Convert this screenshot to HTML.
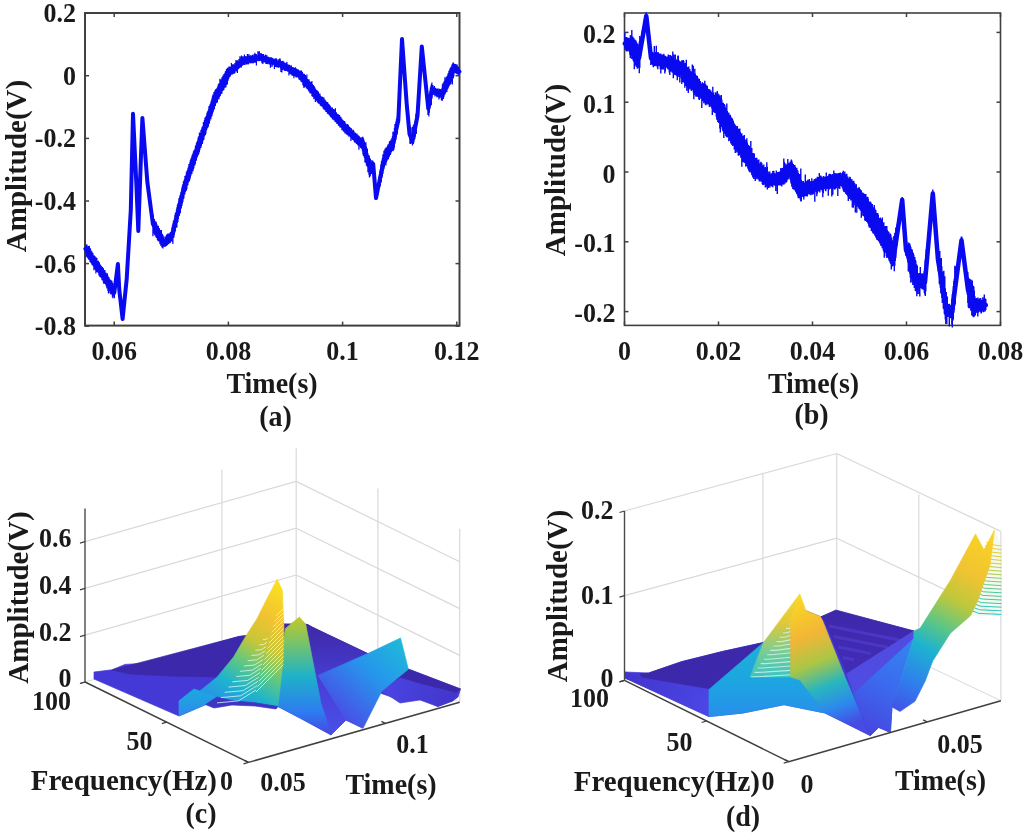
<!DOCTYPE html>
<html><head><meta charset="utf-8"><style>
html,body{margin:0;padding:0;background:#fff;width:1025px;height:835px;overflow:hidden}
svg{display:block;font-family:"Liberation Serif",serif;filter:blur(0.45px)}
</style></head><body>
<svg width="1025" height="835" viewBox="0 0 1025 835" font-family="Liberation Serif" font-weight="bold" fill="#1a1a1a"><defs><linearGradient id="crend" gradientUnits="userSpaceOnUse" x1="380" y1="680" x2="460" y2="700"><stop offset="0" stop-color="rgb(75,70,228)"/><stop offset="1" stop-color="rgb(66,52,200)"/></linearGradient><linearGradient id="cmid" gradientUnits="userSpaceOnUse" x1="0" y1="630" x2="0" y2="735"><stop offset="0" stop-color="rgb(62,42,170)"/><stop offset="0.5" stop-color="rgb(72,62,215)"/><stop offset="1" stop-color="rgb(74,80,232)"/></linearGradient><linearGradient id="cp3" gradientUnits="userSpaceOnUse" x1="405" y1="640" x2="335" y2="715"><stop offset="0" stop-color="rgb(30,188,215)"/><stop offset="0.45" stop-color="rgb(38,150,236)"/><stop offset="1" stop-color="rgb(75,75,230)"/></linearGradient><linearGradient id="cp2" gradientUnits="userSpaceOnUse" x1="0" y1="617" x2="0" y2="735"><stop offset="0" stop-color="rgb(195,200,40)"/><stop offset="0.22" stop-color="rgb(120,195,105)"/><stop offset="0.5" stop-color="rgb(30,178,200)"/><stop offset="0.8" stop-color="rgb(45,125,240)"/><stop offset="1" stop-color="rgb(68,72,228)"/></linearGradient><linearGradient id="cp1" gradientUnits="userSpaceOnUse" x1="282" y1="585" x2="215" y2="705"><stop offset="0" stop-color="rgb(250,225,30)"/><stop offset="0.25" stop-color="rgb(242,195,50)"/><stop offset="0.45" stop-color="rgb(200,198,55)"/><stop offset="0.62" stop-color="rgb(100,200,125)"/><stop offset="0.8" stop-color="rgb(30,180,205)"/><stop offset="1" stop-color="rgb(40,140,236)"/></linearGradient><linearGradient id="cface" gradientUnits="userSpaceOnUse" x1="0" y1="690" x2="0" y2="716"><stop offset="0" stop-color="rgb(28,168,222)"/><stop offset="1" stop-color="rgb(45,140,235)"/></linearGradient><linearGradient id="dfront" gradientUnits="userSpaceOnUse" x1="625" y1="675" x2="710" y2="720"><stop offset="0" stop-color="rgb(66,52,205)"/><stop offset="1" stop-color="rgb(76,72,232)"/></linearGradient><linearGradient id="dcy" gradientUnits="userSpaceOnUse" x1="0" y1="642" x2="0" y2="721"><stop offset="0" stop-color="rgb(30,178,212)"/><stop offset="0.5" stop-color="rgb(28,165,225)"/><stop offset="1" stop-color="rgb(42,140,236)"/></linearGradient><linearGradient id="dp1l" gradientUnits="userSpaceOnUse" x1="0" y1="594" x2="0" y2="677"><stop offset="0" stop-color="rgb(250,215,40)"/><stop offset="0.35" stop-color="rgb(225,200,55)"/><stop offset="0.7" stop-color="rgb(120,205,150)"/><stop offset="1" stop-color="rgb(60,195,195)"/></linearGradient><linearGradient id="dp1" gradientUnits="userSpaceOnUse" x1="800" y1="594" x2="850" y2="725"><stop offset="0" stop-color="rgb(250,218,35)"/><stop offset="0.3" stop-color="rgb(242,182,55)"/><stop offset="0.5" stop-color="rgb(170,198,70)"/><stop offset="0.68" stop-color="rgb(40,182,190)"/><stop offset="0.85" stop-color="rgb(45,135,238)"/><stop offset="1" stop-color="rgb(70,75,228)"/></linearGradient><linearGradient id="dback" gradientUnits="userSpaceOnUse" x1="0" y1="610" x2="0" y2="680"><stop offset="0" stop-color="rgb(62,40,170)"/><stop offset="1" stop-color="rgb(66,45,185)"/></linearGradient><linearGradient id="dlb" gradientUnits="userSpaceOnUse" x1="915" y1="640" x2="860" y2="735"><stop offset="0" stop-color="rgb(50,135,240)"/><stop offset="0.5" stop-color="rgb(60,105,238)"/><stop offset="1" stop-color="rgb(72,66,222)"/></linearGradient><linearGradient id="drr" gradientUnits="userSpaceOnUse" x1="990" y1="532" x2="890" y2="720"><stop offset="0" stop-color="rgb(250,212,35)"/><stop offset="0.22" stop-color="rgb(240,195,50)"/><stop offset="0.36" stop-color="rgb(190,200,60)"/><stop offset="0.5" stop-color="rgb(90,198,135)"/><stop offset="0.62" stop-color="rgb(30,178,208)"/><stop offset="0.8" stop-color="rgb(48,125,238)"/><stop offset="1" stop-color="rgb(72,68,226)"/></linearGradient></defs><rect x="85" y="13" width="374.5" height="312.6" fill="none" stroke="#404040" stroke-width="2"/>
<line x1="85" y1="13.1" x2="89" y2="13.1" stroke="#404040" stroke-width="1.5"/>
<line x1="459.5" y1="13.1" x2="455.5" y2="13.1" stroke="#404040" stroke-width="1.5"/>
<text transform="translate(76.0,22.1) scale(1,1.03)" font-size="26" text-anchor="end" >0.2</text>
<line x1="85" y1="75.7" x2="89" y2="75.7" stroke="#404040" stroke-width="1.5"/>
<line x1="459.5" y1="75.7" x2="455.5" y2="75.7" stroke="#404040" stroke-width="1.5"/>
<text transform="translate(76.0,84.7) scale(1,1.03)" font-size="26" text-anchor="end" >0</text>
<line x1="85" y1="138.4" x2="89" y2="138.4" stroke="#404040" stroke-width="1.5"/>
<line x1="459.5" y1="138.4" x2="455.5" y2="138.4" stroke="#404040" stroke-width="1.5"/>
<text transform="translate(76.0,147.4) scale(1,1.03)" font-size="26" text-anchor="end" >-0.2</text>
<line x1="85" y1="201" x2="89" y2="201" stroke="#404040" stroke-width="1.5"/>
<line x1="459.5" y1="201" x2="455.5" y2="201" stroke="#404040" stroke-width="1.5"/>
<text transform="translate(76.0,210.0) scale(1,1.03)" font-size="26" text-anchor="end" >-0.4</text>
<line x1="85" y1="263.6" x2="89" y2="263.6" stroke="#404040" stroke-width="1.5"/>
<line x1="459.5" y1="263.6" x2="455.5" y2="263.6" stroke="#404040" stroke-width="1.5"/>
<text transform="translate(76.0,272.6) scale(1,1.03)" font-size="26" text-anchor="end" >-0.6</text>
<line x1="85" y1="326.2" x2="89" y2="326.2" stroke="#404040" stroke-width="1.5"/>
<line x1="459.5" y1="326.2" x2="455.5" y2="326.2" stroke="#404040" stroke-width="1.5"/>
<text transform="translate(76.0,335.2) scale(1,1.03)" font-size="26" text-anchor="end" >-0.8</text>
<line x1="114.2" y1="325.6" x2="114.2" y2="321.6" stroke="#404040" stroke-width="1.5"/>
<line x1="114.2" y1="13" x2="114.2" y2="17" stroke="#404040" stroke-width="1.5"/>
<text transform="translate(114.2,360.0) scale(1,1.03)" font-size="26" text-anchor="middle" >0.06</text>
<line x1="228.4" y1="325.6" x2="228.4" y2="321.6" stroke="#404040" stroke-width="1.5"/>
<line x1="228.4" y1="13" x2="228.4" y2="17" stroke="#404040" stroke-width="1.5"/>
<text transform="translate(228.4,360.0) scale(1,1.03)" font-size="26" text-anchor="middle" >0.08</text>
<line x1="342.6" y1="325.6" x2="342.6" y2="321.6" stroke="#404040" stroke-width="1.5"/>
<line x1="342.6" y1="13" x2="342.6" y2="17" stroke="#404040" stroke-width="1.5"/>
<text transform="translate(342.6,360.0) scale(1,1.03)" font-size="26" text-anchor="middle" >0.1</text>
<line x1="456.8" y1="325.6" x2="456.8" y2="321.6" stroke="#404040" stroke-width="1.5"/>
<line x1="456.8" y1="13" x2="456.8" y2="17" stroke="#404040" stroke-width="1.5"/>
<text transform="translate(456.8,360.0) scale(1,1.03)" font-size="26" text-anchor="middle" >0.12</text>
<text transform="translate(272.0,393.0) scale(1,1.03)" font-size="28" text-anchor="middle" >Time(s)</text>
<text transform="translate(275.5,426.0) scale(1,1.03)" font-size="28" text-anchor="middle" >(a)</text>
<text transform="translate(25.5,166) rotate(-90)" font-size="29" text-anchor="middle">Amplitude(V)</text>
<polyline points="85.4,248.8 100.5,270.8 114.3,292.8 117.9,264.0 119.3,290.0 122.6,319.0 126.7,279.0 130.8,210.0 133.0,113.8 136.3,182.6 138.3,230.9 140.5,168.9 142.4,117.9 147.4,182.6 152.9,224.0 163.9,243.2 172.2,235.0 184.0,188.0 205.7,125.0 214.4,99.5 228.7,73.0 243.0,61.0 260.0,57.5 279.0,63.5 300.6,75.5 319.8,99.5 343.7,125.8 362.9,145.0 370.8,170.0 373.2,163.8 376.0,198.0 384.0,159.0 393.5,142.0 398.3,120.6 402.0,39.0 406.7,103.9 409.5,134.0 411.5,139.0 414.0,134.0 417.5,115.9 421.8,46.4 428.3,108.7 431.9,89.5 441.5,94.3 454.7,67.9 459.4,71.5" fill="none" stroke="#0a0af0" stroke-width="4" stroke-linejoin="round" stroke-linecap="round"/>
<path d="M85.90,244.7V254.0M86.40,245.1V256.5M86.90,244.2V257.1M87.40,246.5V257.7M87.90,247.2V258.0M88.40,246.1V259.5M88.90,246.7V259.0M89.40,245.8V260.0M89.90,249.9V261.7M90.40,248.3V262.3M90.90,250.3V262.8M91.40,251.2V263.6M91.90,251.5V264.8M92.40,252.7V265.2M92.90,253.1V265.4M93.40,255.2V266.4M93.90,255.8V270.3M94.40,255.6V268.9M94.90,256.1V269.0M95.40,257.3V270.2M95.90,258.0V273.4M96.40,257.6V271.7M96.90,257.9V272.0M97.40,261.0V271.4M97.90,261.7V272.6M98.40,260.8V272.9M98.90,262.2V275.4M99.40,262.3V274.8M99.90,264.0V277.0M100.40,265.1V276.2M100.90,265.6V277.8M101.40,266.3V277.6M101.90,266.8V279.7M102.40,266.9V280.4M102.90,267.7V280.2M103.40,268.3V282.8M103.90,269.9V284.1M104.40,271.4V282.9M104.90,269.9V283.4M105.40,272.4V284.1M105.90,272.6V285.2M106.40,274.0V286.4M106.90,273.7V288.6M107.40,273.3V287.4M107.90,275.4V290.9M108.40,277.7V293.5M108.90,276.9V291.1M109.40,278.8V290.8M109.90,279.2V292.9M110.40,280.7V293.8M110.90,280.1V294.6M111.40,281.1V294.1M111.90,280.8V294.5M112.40,282.8V297.3M112.90,283.1V298.2M113.40,286.5V295.9M113.90,288.2V296.2M114.40,284.2V298.3M152.90,214.0V236.2M153.40,216.0V233.6M153.90,219.5V233.4M154.40,219.0V234.6M154.90,220.7V235.4M155.40,222.1V234.5M155.90,221.4V236.9M156.40,222.4V238.1M156.90,224.3V238.1M157.40,225.9V239.9M157.90,225.7V240.7M158.40,225.8V241.3M158.90,228.0V241.0M159.40,228.2V241.8M159.90,230.1V244.1M160.40,230.2V244.2M160.90,231.2V245.9M161.40,229.9V245.9M161.90,233.8V247.3M162.40,233.7V248.1M162.90,234.9V248.5M163.40,236.5V246.7M163.90,239.8V246.0M164.40,239.0V246.5M164.90,236.5V246.9M165.40,236.9V246.6M165.90,236.5V246.1M166.40,234.9V246.0M166.90,234.4V244.6M167.40,233.9V245.3M167.90,233.6V244.0M168.40,233.5V244.2M168.90,234.2V243.6M169.40,233.7V243.5M169.90,233.0V243.1M170.40,232.0V242.7M170.90,232.2V241.0M171.40,230.6V240.7M171.90,227.2V241.8M172.40,225.6V241.8M172.90,223.2V244.1M173.40,220.4V238.1M173.90,220.5V237.6M174.40,218.3V234.8M174.90,214.8V232.5M175.40,212.6V231.2M175.90,212.4V228.1M176.40,209.7V226.1M176.90,207.2V227.4M177.40,204.7V223.0M177.90,203.4V222.0M178.40,202.3V219.1M178.90,198.3V216.3M179.40,198.0V215.7M179.90,195.6V212.4M180.40,194.6V213.2M180.90,192.3V209.1M181.40,190.4V207.8M181.90,187.6V205.9M182.40,185.6V203.6M182.90,184.0V201.9M183.40,181.3V199.0M183.90,180.8V198.4M184.40,179.1V194.4M184.90,176.1V194.3M185.40,176.0V192.0M185.90,174.7V190.9M186.40,171.5V190.6M186.90,171.6V189.1M187.40,169.9V185.5M187.90,168.2V185.2M188.40,166.7V182.6M188.90,164.1V182.1M189.40,164.4V181.0M189.90,161.8V179.7M190.40,160.1V177.7M190.90,158.4V175.7M191.40,157.7V174.0M191.90,155.7V173.9M192.40,154.4V171.3M192.90,153.6V171.4M193.40,151.5V169.4M193.90,150.3V168.2M194.40,150.3V165.5M194.90,148.7V165.6M195.40,146.1V163.7M195.90,145.0V160.9M196.40,142.9V160.5M196.90,141.7V158.1M197.40,141.1V156.7M197.90,138.6V155.5M198.40,136.6V154.7M198.90,136.3V153.7M199.40,132.5V152.1M199.90,132.8V149.9M200.40,133.0V147.9M200.90,130.1V147.9M201.40,129.4V146.0M201.90,127.6V143.7M202.40,126.7V144.1M202.90,125.7V141.5M203.40,122.1V140.1M203.90,122.4V139.7M204.40,120.1V136.5M204.90,117.8V135.0M205.40,117.3V135.2M205.90,116.5V133.8M206.40,115.5V130.4M206.90,113.1V129.6M207.40,111.8V128.1M207.90,111.1V127.6M208.40,109.4V126.5M208.90,106.2V123.7M209.40,105.9V123.8M209.90,104.5V121.0M210.40,103.7V118.9M210.90,101.7V119.2M211.40,100.3V116.8M211.90,98.6V116.3M212.40,96.2V114.2M212.90,94.4V112.5M213.40,94.9V111.5M213.90,91.9V109.8M214.40,92.2V109.0M214.90,90.6V106.3M215.40,89.8V106.0M215.90,89.1V103.6M216.40,88.7V102.4M216.90,88.2V103.1M217.40,87.3V102.1M217.90,85.8V99.5M218.40,83.7V99.0M218.90,83.7V99.3M219.40,83.1V97.3M219.90,78.8V96.3M220.40,81.9V95.7M220.90,79.4V94.1M221.40,79.8V93.6M221.90,77.3V93.7M222.40,78.4V90.9M222.90,75.6V91.0M223.40,76.6V89.9M223.90,73.9V90.0M224.40,74.2V87.4M224.90,72.7V87.7M225.40,71.3V86.7M225.90,71.0V87.6M226.40,69.0V84.9M226.90,69.9V83.1M227.40,67.7V84.5M227.90,67.7V80.9M228.40,68.3V79.4M228.90,66.4V78.6M229.40,67.7V76.6M229.90,66.5V76.9M230.40,68.1V76.1M230.90,66.8V75.1M231.40,63.0V74.6M231.90,65.4V74.1M232.40,64.9V74.4M232.90,64.0V73.5M233.40,65.2V72.9M233.90,64.6V74.1M234.40,64.4V72.1M234.90,62.9V73.3M235.40,63.1V71.2M235.90,60.0V70.5M236.40,61.2V71.5M236.90,60.7V70.2M237.40,60.3V73.0M237.90,61.1V69.4M238.40,61.5V68.9M238.90,59.0V68.1M239.40,60.2V68.2M239.90,56.2V67.9M240.40,57.8V67.0M240.90,57.4V66.2M241.40,55.5V67.4M241.90,56.5V65.9M242.40,56.4V65.4M242.90,56.2V65.3M243.40,56.8V64.1M243.90,58.5V64.8M244.40,54.5V65.1M244.90,56.2V65.0M245.40,57.6V63.8M245.90,56.0V63.1M246.40,56.4V64.4M246.90,56.5V63.2M247.40,54.0V64.1M247.90,57.1V64.6M248.40,55.4V64.2M248.90,54.0V62.3M249.40,56.4V62.5M249.90,55.9V63.4M250.40,55.3V63.3M250.90,55.2V62.3M251.40,56.1V63.2M251.90,56.3V62.0M252.40,54.8V62.7M252.90,55.8V63.5M253.40,56.0V63.0M253.90,54.3V61.3M254.40,54.5V62.8M254.90,52.7V61.5M255.40,54.8V62.8M255.90,54.1V61.7M256.40,54.2V65.4M256.90,55.3V61.3M257.40,55.3V60.9M257.90,51.3V60.7M258.40,55.1V60.8M258.90,51.4V61.3M259.40,51.3V61.3M259.90,54.4V60.4M260.40,53.2V60.6M260.90,54.6V61.1M261.40,53.3V61.2M261.90,54.1V63.3M262.40,54.0V61.6M262.90,55.0V64.0M263.40,54.1V61.2M263.90,55.5V62.3M264.40,55.8V62.5M264.90,56.4V62.6M265.40,54.6V62.1M265.90,54.9V63.9M266.40,57.0V64.0M266.90,55.3V63.5M267.40,57.0V64.0M267.90,56.7V64.3M268.40,57.3V63.1M268.90,56.7V63.6M269.40,57.5V64.5M269.90,58.1V64.3M270.40,58.3V67.7M270.90,57.1V64.1M271.40,57.4V64.5M271.90,57.8V67.1M272.40,58.5V65.5M272.90,58.1V64.4M273.40,59.1V64.4M273.90,59.3V65.3M274.40,59.5V68.9M274.90,58.6V64.8M275.40,59.1V66.9M275.90,58.2V67.1M276.40,58.5V65.5M276.90,59.3V67.4M277.40,60.2V67.2M277.90,60.6V66.4M278.40,60.5V67.8M278.90,59.1V66.4M279.40,59.0V66.9M279.90,58.3V67.5M280.40,59.4V68.6M280.90,61.4V71.9M281.40,61.2V69.6M281.90,61.0V72.6M282.40,61.7V69.9M282.90,60.7V69.7M283.40,61.5V69.7M283.90,61.8V69.1M284.40,63.1V70.7M284.90,62.7V71.0M285.40,64.3V69.9M285.90,63.2V71.1M286.40,62.8V70.7M286.90,61.9V70.7M287.40,64.6V71.5M287.90,64.3V71.7M288.40,64.9V71.8M288.90,65.7V75.4M289.40,64.8V73.0M289.90,66.7V73.8M290.40,66.3V74.1M290.90,65.2V74.5M291.40,65.6V73.3M291.90,67.0V75.5M292.40,66.9V75.8M292.90,68.0V75.4M293.40,67.3V76.1M293.90,68.3V78.3M294.40,67.7V74.9M294.90,67.9V76.2M295.40,67.2V75.9M295.90,69.4V77.3M296.40,68.5V77.5M296.90,69.4V77.2M297.40,69.8V77.1M297.90,69.1V77.3M298.40,71.4V77.7M298.90,70.1V79.4M299.40,71.3V79.6M299.90,71.6V80.1M300.40,70.6V80.2M300.90,71.0V81.6M301.40,70.4V81.7M301.90,71.4V82.2M302.40,71.9V82.4M302.90,73.6V85.1M303.40,74.3V86.3M303.90,73.7V87.9M304.40,74.0V86.5M304.90,76.3V87.2M305.40,75.0V86.2M305.90,77.4V86.6M306.40,76.5V88.6M306.90,74.5V88.4M307.40,79.1V89.1M307.90,80.1V89.6M308.40,79.2V90.5M308.90,79.3V91.4M309.40,80.7V91.0M309.90,81.7V93.3M310.40,81.8V93.4M310.90,82.0V93.0M311.40,84.2V93.4M311.90,81.0V96.2M312.40,84.1V95.1M312.90,85.7V97.1M313.40,85.0V96.6M313.90,86.2V99.3M314.40,86.6V98.7M314.90,87.6V98.6M315.40,88.7V101.9M315.90,89.7V99.6M316.40,89.7V100.5M316.90,90.9V101.3M317.40,90.4V102.6M317.90,91.9V102.3M318.40,91.5V103.6M318.90,93.6V103.8M319.40,93.4V103.6M319.90,93.4V104.3M320.40,95.4V105.8M320.90,96.3V105.1M321.40,96.5V106.4M321.90,97.1V106.3M322.40,96.7V106.6M322.90,98.7V107.8M323.40,97.7V109.1M323.90,97.3V109.4M324.40,100.5V109.5M324.90,99.6V110.2M325.40,100.6V110.0M325.90,101.3V111.9M326.40,101.8V112.1M326.90,102.4V111.8M327.40,101.9V113.6M327.90,102.5V113.9M328.40,103.9V113.7M328.90,105.3V114.5M329.40,104.5V115.5M329.90,105.6V115.6M330.40,106.2V116.7M330.90,107.3V117.2M331.40,107.4V117.4M331.90,108.7V118.0M332.40,107.6V119.5M332.90,109.7V119.2M333.40,108.9V119.6M333.90,109.2V120.2M334.40,109.4V120.1M334.90,111.2V121.8M335.40,108.2V121.5M335.90,113.2V122.2M336.40,112.2V122.6M336.90,113.8V124.0M337.40,113.7V123.4M337.90,114.5V123.9M338.40,114.2V125.8M338.90,115.5V125.8M339.40,114.9V125.9M339.90,115.8V127.4M340.40,117.5V127.4M340.90,116.9V127.5M341.40,118.6V128.1M341.90,118.8V130.3M342.40,119.8V129.1M342.90,120.0V130.3M343.40,120.7V131.5M343.90,122.0V131.7M344.40,121.0V130.6M344.90,121.8V133.6M345.40,123.2V131.5M345.90,123.7V133.5M346.40,124.4V134.3M346.90,124.9V134.7M347.40,124.0V134.7M347.90,124.5V135.6M348.40,125.2V135.4M348.90,126.3V136.7M349.40,127.1V135.8M349.90,127.1V135.9M350.40,128.4V137.4M350.90,128.0V141.1M351.40,128.5V138.7M351.90,129.4V138.7M352.40,130.6V139.7M352.90,131.2V140.1M353.40,129.7V140.0M353.90,131.1V140.8M354.40,132.6V141.9M354.90,132.5V142.7M355.40,132.7V142.4M355.90,133.8V142.7M356.40,133.5V144.1M356.90,133.4V143.7M357.40,135.1V144.4M357.90,134.8V145.5M358.40,136.0V144.9M358.90,135.8V149.8M359.40,136.5V145.4M359.90,138.2V146.2M360.40,137.4V147.7M360.90,137.2V148.1M361.40,138.3V148.8M361.90,138.7V148.2M362.40,136.8V151.3M362.90,136.7V154.2M363.40,138.3V155.9M363.90,139.5V156.2M364.40,141.3V157.9M364.90,142.4V162.4M365.40,145.2V162.2M365.90,142.3V162.9M366.40,146.5V165.7M366.90,149.3V165.4M367.40,148.4V167.0M367.90,153.1V172.2M368.40,154.9V171.5M368.90,154.9V174.8M369.40,156.2V177.6M369.90,158.7V176.7M370.40,158.4V175.7M370.90,165.1V171.9M371.40,161.6V174.1M371.90,160.0V173.3M372.40,161.8V169.7M372.90,160.8V169.8M378.90,178.9V188.8M379.40,175.7V188.0M379.90,171.2V186.3M380.40,169.0V186.1M380.90,164.4V182.7M381.40,161.6V181.4M381.90,160.7V178.1M382.40,158.1V176.2M382.90,154.5V174.0M383.40,154.0V170.4M383.90,150.8V169.2M384.40,151.1V167.2M384.90,149.0V165.1M385.40,148.6V164.3M385.90,147.6V165.5M386.40,148.3V162.4M386.90,147.3V161.2M387.40,145.9V159.4M387.90,144.4V159.8M388.40,144.9V158.9M388.90,143.7V157.5M389.40,141.4V156.5M389.90,141.1V154.9M390.40,141.1V155.1M390.90,139.4V153.5M391.40,139.4V151.9M391.90,138.0V151.1M392.40,136.2V150.3M392.90,131.7V151.3M393.40,132.7V150.4M393.90,131.8V149.7M394.40,128.1V147.5M394.90,124.0V144.1M395.40,125.6V141.4M395.90,121.6V140.1M396.40,119.3V137.0M396.90,118.2V134.9M397.40,116.3V133.6M409.90,125.6V143.8M410.40,128.0V143.9M410.90,127.5V143.7M411.40,133.6V143.2M411.90,134.8V143.2M412.40,126.7V145.4M412.90,127.5V144.3M413.40,124.7V144.0M413.90,126.3V142.4M414.40,123.4V140.2M414.90,121.3V138.9M415.40,118.7V136.8M415.90,114.1V134.1M416.40,113.3V133.7M427.90,94.4V114.9M428.40,100.6V112.8M428.90,97.2V116.6M429.40,94.5V112.8M429.90,91.2V108.5M430.40,87.6V106.2M430.90,85.7V103.5M431.40,83.9V105.2M431.90,82.5V98.6M432.40,85.6V93.8M432.90,85.1V94.9M433.40,87.3V93.6M433.90,87.7V94.8M434.40,85.9V93.5M434.90,87.5V96.6M435.40,88.1V94.9M435.90,88.3V95.5M436.40,88.7V96.1M436.90,88.9V97.4M437.40,88.9V95.4M437.90,88.2V97.0M438.40,89.6V95.6M438.90,89.4V99.5M439.40,88.7V97.9M439.90,90.8V98.2M440.40,89.1V97.0M440.90,89.8V97.1M441.40,90.4V100.6M441.90,87.7V98.4M442.40,84.4V100.7M442.90,83.3V99.0M443.40,83.7V99.1M443.90,81.8V97.3M444.40,80.7V95.2M444.90,77.2V94.6M445.40,79.8V93.4M445.90,78.4V92.2M446.40,76.6V92.3M446.90,76.6V92.1M447.40,75.7V89.4M447.90,73.7V88.8M448.40,73.0V87.5M448.90,71.0V86.5M449.40,70.2V85.5M449.90,68.8V85.0M450.40,68.0V84.3M450.90,66.8V83.9M451.40,67.3V81.9M451.90,64.7V81.9M452.40,64.1V84.4M452.90,62.8V78.7M453.40,62.5V78.0M453.90,63.5V76.3M454.40,64.4V72.9M454.90,63.9V72.7M455.40,64.1V73.0M455.90,65.5V73.5M456.40,64.5V73.0M456.90,64.3V74.2M457.40,65.6V74.1M457.90,66.5V74.2M458.40,67.2V75.3M458.90,67.1V74.6" fill="none" stroke="#0a0af0" stroke-width="1.2"/>
<rect x="624.5" y="13" width="376.0" height="312.4" fill="none" stroke="#404040" stroke-width="1.6"/>
<line x1="624.5" y1="32.4" x2="628.5" y2="32.4" stroke="#404040" stroke-width="1.5"/>
<line x1="1000.5" y1="32.4" x2="996.5" y2="32.4" stroke="#404040" stroke-width="1.5"/>
<text transform="translate(615.5,42.9) scale(1,1.03)" font-size="26" text-anchor="end" >0.2</text>
<line x1="624.5" y1="102.2" x2="628.5" y2="102.2" stroke="#404040" stroke-width="1.5"/>
<line x1="1000.5" y1="102.2" x2="996.5" y2="102.2" stroke="#404040" stroke-width="1.5"/>
<text transform="translate(615.5,112.7) scale(1,1.03)" font-size="26" text-anchor="end" >0.1</text>
<line x1="624.5" y1="172" x2="628.5" y2="172" stroke="#404040" stroke-width="1.5"/>
<line x1="1000.5" y1="172" x2="996.5" y2="172" stroke="#404040" stroke-width="1.5"/>
<text transform="translate(615.5,182.5) scale(1,1.03)" font-size="26" text-anchor="end" >0</text>
<line x1="624.5" y1="241.8" x2="628.5" y2="241.8" stroke="#404040" stroke-width="1.5"/>
<line x1="1000.5" y1="241.8" x2="996.5" y2="241.8" stroke="#404040" stroke-width="1.5"/>
<text transform="translate(615.5,252.3) scale(1,1.03)" font-size="26" text-anchor="end" >-0.1</text>
<line x1="624.5" y1="311.6" x2="628.5" y2="311.6" stroke="#404040" stroke-width="1.5"/>
<line x1="1000.5" y1="311.6" x2="996.5" y2="311.6" stroke="#404040" stroke-width="1.5"/>
<text transform="translate(615.5,322.1) scale(1,1.03)" font-size="26" text-anchor="end" >-0.2</text>
<line x1="624.5" y1="325.4" x2="624.5" y2="321.4" stroke="#404040" stroke-width="1.5"/>
<line x1="624.5" y1="13" x2="624.5" y2="17" stroke="#404040" stroke-width="1.5"/>
<text transform="translate(624.5,360.0) scale(1,1.03)" font-size="26" text-anchor="middle" >0</text>
<line x1="718.5" y1="325.4" x2="718.5" y2="321.4" stroke="#404040" stroke-width="1.5"/>
<line x1="718.5" y1="13" x2="718.5" y2="17" stroke="#404040" stroke-width="1.5"/>
<text transform="translate(718.5,360.0) scale(1,1.03)" font-size="26" text-anchor="middle" >0.02</text>
<line x1="812.5" y1="325.4" x2="812.5" y2="321.4" stroke="#404040" stroke-width="1.5"/>
<line x1="812.5" y1="13" x2="812.5" y2="17" stroke="#404040" stroke-width="1.5"/>
<text transform="translate(812.5,360.0) scale(1,1.03)" font-size="26" text-anchor="middle" >0.04</text>
<line x1="906.5" y1="325.4" x2="906.5" y2="321.4" stroke="#404040" stroke-width="1.5"/>
<line x1="906.5" y1="13" x2="906.5" y2="17" stroke="#404040" stroke-width="1.5"/>
<text transform="translate(906.5,360.0) scale(1,1.03)" font-size="26" text-anchor="middle" >0.06</text>
<line x1="1000.5" y1="325.4" x2="1000.5" y2="321.4" stroke="#404040" stroke-width="1.5"/>
<line x1="1000.5" y1="13" x2="1000.5" y2="17" stroke="#404040" stroke-width="1.5"/>
<text transform="translate(1000.5,360.0) scale(1,1.03)" font-size="26" text-anchor="middle" >0.08</text>
<text transform="translate(813.5,393.0) scale(1,1.03)" font-size="28" text-anchor="middle" >Time(s)</text>
<text transform="translate(811.5,424.0) scale(1,1.03)" font-size="28" text-anchor="middle" >(b)</text>
<text transform="translate(564.5,170) rotate(-90)" font-size="29" text-anchor="middle">Amplitude(V)</text>
<path d="M624.80,32.5V48.5M625.30,37.5V49.3M625.80,38.8V50.6M626.30,36.9V50.8M626.80,38.6V51.5M627.30,37.4V51.3M627.80,38.5V50.0M628.30,37.8V50.7M628.80,40.0V50.7M629.30,38.9V52.0M629.80,38.1V54.7M630.30,35.3V58.2M630.80,37.6V55.7M631.30,35.1V55.8M631.80,30.1V58.9M632.30,36.6V59.1M632.80,36.7V59.3M633.30,37.7V60.9M633.80,37.9V61.7M634.30,40.8V69.3M634.80,39.6V64.9M635.30,40.3V65.4M635.80,40.3V64.7M636.30,41.7V66.8M636.80,42.7V66.9M637.30,43.8V68.7M637.80,43.9V68.1M638.30,50.3V62.9M638.80,46.4V66.9M639.30,41.5V73.2M639.80,36.0V67.7M640.30,41.0V56.4M640.80,42.0V55.4M641.30,37.6V53.6M641.80,34.0V48.8M642.30,30.6V45.5M642.80,30.0V43.0M643.30,28.0V38.4M643.80,24.6V35.2M644.30,20.7V33.3M644.80,19.8V27.7M645.30,17.9V25.7M645.80,14.6V23.2M646.30,12.3V22.3M646.80,15.7V25.0M647.30,19.3V32.1M647.80,24.5V35.0M648.30,26.8V38.4M648.80,32.9V46.4M649.30,35.0V49.4M649.80,42.0V55.7M650.30,43.8V60.3M650.80,46.7V64.9M651.30,52.6V62.5M651.80,52.9V64.4M652.30,51.9V63.6M652.80,53.2V65.6M653.30,52.6V67.2M653.80,54.0V65.0M654.30,45.9V66.3M654.80,52.1V66.3M655.30,52.6V66.0M655.80,52.1V66.1M656.30,45.8V65.7M656.80,54.6V64.6M657.30,53.0V67.6M657.80,52.0V69.3M658.30,52.6V66.0M658.80,54.5V65.2M659.30,53.4V66.3M659.80,54.3V65.3M660.30,53.6V69.0M660.80,53.6V73.6M661.30,55.0V69.0M661.80,55.2V68.0M662.30,54.5V69.5M662.80,55.1V68.7M663.30,55.6V69.5M663.80,53.8V67.1M664.30,55.6V67.0M664.80,56.0V73.6M665.30,55.7V71.6M665.80,56.5V67.5M666.30,56.7V67.0M666.80,56.4V67.6M667.30,57.5V68.3M667.80,57.3V69.2M668.30,54.6V68.5M668.80,55.1V69.8M669.30,57.3V72.4M669.80,57.5V75.0M670.30,55.1V71.5M670.80,57.9V71.8M671.30,55.7V70.1M671.80,57.3V71.0M672.30,58.2V72.8M672.80,51.5V72.0M673.30,58.9V78.2M673.80,54.4V72.1M674.30,60.2V74.1M674.80,59.4V75.1M675.30,54.6V75.2M675.80,58.8V74.7M676.30,60.1V74.9M676.80,61.1V75.9M677.30,59.8V80.2M677.80,55.7V73.2M678.30,55.4V74.8M678.80,62.4V76.9M679.30,60.5V74.8M679.80,60.9V82.4M680.30,62.7V74.5M680.80,61.7V74.8M681.30,63.7V78.3M681.80,60.2V83.9M682.30,60.6V80.4M682.80,63.1V82.1M683.30,60.0V81.9M683.80,61.0V82.3M684.30,64.6V83.1M684.80,63.4V87.8M685.30,63.1V84.6M685.80,64.3V85.9M686.30,59.8V83.5M686.80,66.8V90.7M687.30,67.2V84.6M687.80,67.0V88.0M688.30,68.1V93.0M688.80,66.6V87.5M689.30,69.8V88.6M689.80,69.1V89.5M690.30,71.1V88.2M690.80,71.3V87.8M691.30,71.9V90.9M691.80,72.8V90.0M692.30,64.4V89.9M692.80,71.3V90.1M693.30,65.8V92.6M693.80,74.7V99.3M694.30,73.5V95.2M694.80,68.7V93.0M695.30,73.8V93.8M695.80,75.1V96.5M696.30,77.6V96.8M696.80,75.8V95.6M697.30,76.1V96.1M697.80,77.7V96.9M698.30,79.7V95.9M698.80,79.0V99.3M699.30,78.7V99.9M699.80,81.1V96.9M700.30,81.3V96.9M700.80,83.4V98.8M701.30,84.1V97.6M701.80,84.1V108.1M702.30,82.2V100.0M702.80,83.1V100.8M703.30,84.8V101.0M703.80,83.3V103.2M704.30,85.8V101.8M704.80,80.8V101.3M705.30,84.0V104.5M705.80,84.4V105.2M706.30,85.5V102.0M706.80,86.7V103.4M707.30,85.8V104.5M707.80,88.8V104.4M708.30,90.3V104.2M708.80,89.1V104.3M709.30,89.8V106.7M709.80,89.6V107.0M710.30,91.7V105.9M710.80,90.4V106.1M711.30,92.0V106.4M711.80,92.5V108.4M712.30,93.0V115.1M712.80,86.7V109.0M713.30,92.5V110.6M713.80,94.7V112.2M714.30,95.2V111.9M714.80,95.3V112.9M715.30,92.3V111.1M715.80,94.5V113.3M716.30,94.1V116.8M716.80,92.6V119.5M717.30,91.1V120.0M717.80,93.3V122.1M718.30,95.8V122.3M718.80,94.3V122.9M719.30,97.8V122.6M719.80,95.4V128.4M720.30,97.9V132.5M720.80,100.0V124.6M721.30,95.0V127.0M721.80,99.6V126.4M722.30,102.5V129.3M722.80,104.0V130.9M723.30,102.7V131.6M723.80,106.3V138.0M724.30,104.1V130.3M724.80,104.9V133.7M725.30,107.2V132.6M725.80,108.4V136.3M726.30,110.6V135.0M726.80,103.4V137.0M727.30,111.1V137.5M727.80,112.8V135.8M728.30,114.0V136.4M728.80,112.4V141.3M729.30,116.1V139.6M729.80,115.7V140.5M730.30,114.8V139.3M730.80,116.5V143.4M731.30,117.8V143.3M731.80,120.0V144.7M732.30,118.2V145.0M732.80,119.7V146.1M733.30,121.0V145.3M733.80,122.7V144.9M734.30,123.8V149.4M734.80,124.4V147.3M735.30,125.3V152.9M735.80,125.7V150.1M736.30,127.6V148.9M736.80,127.8V152.4M737.30,126.1V151.6M737.80,128.3V151.3M738.30,129.1V155.8M738.80,129.1V154.3M739.30,132.8V155.3M739.80,128.5V155.1M740.30,132.0V155.6M740.80,134.8V157.8M741.30,133.8V157.0M741.80,133.3V166.7M742.30,136.6V158.3M742.80,136.5V162.0M743.30,135.8V160.1M743.80,137.2V162.6M744.30,135.0V162.1M744.80,139.2V162.9M745.30,140.1V163.3M745.80,143.2V166.8M746.30,140.1V164.0M746.80,138.2V165.9M747.30,142.5V165.7M747.80,144.6V168.3M748.30,144.9V169.5M748.80,146.5V170.6M749.30,145.8V171.5M749.80,148.2V172.3M750.30,148.3V171.0M750.80,140.9V171.2M751.30,148.6V172.9M751.80,147.9V175.3M752.30,153.0V175.0M752.80,153.3V177.5M753.30,154.6V174.8M753.80,152.9V179.0M754.30,154.1V176.0M754.80,157.8V177.0M755.30,158.6V181.0M755.80,157.8V176.2M756.30,160.6V177.3M756.80,157.7V179.3M757.30,161.0V177.1M757.80,160.6V177.5M758.30,159.8V179.6M758.80,159.4V178.4M759.30,163.2V181.5M759.80,163.3V181.5M760.30,163.7V180.3M760.80,161.7V180.1M761.30,163.4V181.8M761.80,162.8V181.3M762.30,165.3V184.1M762.80,166.6V184.9M763.30,166.6V185.1M763.80,164.6V183.1M764.30,168.4V183.6M764.80,168.9V184.8M765.30,166.9V187.5M765.80,170.1V185.4M766.30,168.0V185.1M766.80,162.3V187.1M767.30,166.8V189.4M767.80,171.2V186.4M768.30,173.9V188.1M768.80,175.0V185.9M769.30,171.8V185.6M769.80,171.5V187.7M770.30,174.2V184.8M770.80,174.9V184.2M771.30,173.4V186.2M771.80,174.9V186.6M772.30,172.7V186.0M772.80,170.9V187.2M773.30,173.1V184.9M773.80,170.7V185.1M774.30,172.9V184.0M774.80,174.4V185.8M775.30,173.4V185.7M775.80,173.3V190.9M776.30,170.6V183.3M776.80,172.8V185.6M777.30,172.8V194.1M777.80,171.9V185.2M778.30,172.9V185.3M778.80,172.3V185.5M779.30,171.5V185.1M779.80,171.9V185.4M780.30,171.5V185.6M780.80,167.9V185.1M781.30,168.9V185.0M781.80,170.0V186.4M782.30,168.1V184.4M782.80,168.9V182.7M783.30,167.6V184.1M783.80,158.4V184.7M784.30,161.9V181.3M784.80,166.9V183.7M785.30,166.2V180.4M785.80,163.6V182.5M786.30,165.3V182.5M786.80,166.2V181.7M787.30,164.4V179.5M787.80,158.9V179.7M788.30,165.5V178.6M788.80,164.2V178.8M789.30,162.7V176.4M789.80,162.7V176.1M790.30,161.5V179.8M790.80,162.6V182.6M791.30,159.5V184.0M791.80,160.5V186.8M792.30,162.4V186.7M792.80,163.9V189.1M793.30,164.0V188.7M793.80,166.0V189.8M794.30,165.0V189.6M794.80,164.9V188.5M795.30,166.8V191.0M795.80,167.8V191.9M796.30,168.5V192.7M796.80,167.8V194.2M797.30,170.3V192.5M797.80,170.5V196.2M798.30,173.0V198.3M798.80,173.9V197.8M799.30,174.8V198.3M799.80,173.9V196.6M800.30,175.0V199.5M800.80,168.6V201.4M801.30,179.7V201.2M801.80,181.6V197.1M802.30,181.3V196.5M802.80,183.3V194.0M803.30,181.1V197.1M803.80,183.4V199.4M804.30,182.4V195.5M804.80,182.7V196.6M805.30,174.6V195.5M805.80,182.2V195.4M806.30,182.6V196.2M806.80,180.7V196.0M807.30,181.6V196.4M807.80,179.7V192.8M808.30,180.5V192.6M808.80,182.7V194.6M809.30,179.1V194.3M809.80,180.7V194.6M810.30,181.3V192.6M810.80,181.8V195.3M811.30,181.8V191.9M811.80,178.3V193.0M812.30,180.9V194.8M812.80,181.1V191.3M813.30,181.4V194.2M813.80,180.5V193.1M814.30,179.1V191.2M814.80,179.9V201.7M815.30,179.5V190.4M815.80,178.3V191.1M816.30,180.4V191.9M816.80,178.9V196.2M817.30,176.7V193.7M817.80,178.2V190.7M818.30,177.1V191.4M818.80,179.6V191.2M819.30,173.1V191.3M819.80,176.1V192.4M820.30,175.8V189.0M820.80,175.5V190.1M821.30,176.6V188.7M821.80,177.3V189.4M822.30,178.2V191.4M822.80,178.5V197.3M823.30,176.3V193.3M823.80,175.9V188.3M824.30,177.0V189.1M824.80,177.7V188.1M825.30,177.0V190.6M825.80,176.4V191.3M826.30,172.4V189.2M826.80,176.0V189.0M827.30,177.3V188.5M827.80,177.5V187.8M828.30,175.9V195.7M828.80,174.7V188.9M829.30,173.7V189.6M829.80,176.2V188.6M830.30,174.1V186.8M830.80,176.7V188.8M831.30,174.7V186.6M831.80,175.1V196.6M832.30,174.1V187.5M832.80,175.5V194.8M833.30,175.6V186.4M833.80,170.5V188.7M834.30,176.3V186.8M834.80,173.1V189.8M835.30,175.0V187.7M835.80,173.3V188.7M836.30,176.0V188.1M836.80,173.6V185.9M837.30,175.3V186.1M837.80,173.9V196.1M838.30,172.9V188.3M838.80,173.3V187.6M839.30,173.1V188.3M839.80,175.1V189.0M840.30,172.5V185.5M840.80,173.0V186.0M841.30,175.2V185.7M841.80,175.1V186.8M842.30,173.2V187.6M842.80,172.1V188.8M843.30,170.7V190.6M843.80,173.3V191.8M844.30,172.9V192.2M844.80,171.6V190.4M845.30,175.3V191.4M845.80,174.2V193.9M846.30,175.1V192.9M846.80,173.7V195.1M847.30,177.2V194.3M847.80,176.4V196.4M848.30,178.2V200.9M848.80,178.2V198.7M849.30,179.0V199.0M849.80,176.8V197.6M850.30,177.2V198.6M850.80,180.8V200.4M851.30,180.0V197.7M851.80,178.9V200.1M852.30,182.2V207.5M852.80,181.8V200.9M853.30,180.8V207.8M853.80,181.1V202.0M854.30,183.0V202.6M854.80,183.4V205.3M855.30,185.2V212.5M855.80,185.0V204.6M856.30,184.2V206.2M856.80,188.2V212.7M857.30,188.3V206.8M857.80,189.3V206.6M858.30,187.5V206.7M858.80,189.4V208.3M859.30,187.2V209.3M859.80,189.0V208.8M860.30,189.4V210.6M860.80,192.2V210.7M861.30,190.2V217.8M861.80,193.3V212.5M862.30,192.8V210.8M862.80,192.5V215.7M863.30,193.3V214.5M863.80,193.4V216.0M864.30,194.4V216.7M864.80,194.1V220.3M865.30,195.7V220.9M865.80,193.9V220.7M866.30,196.8V219.5M866.80,197.0V222.0M867.30,196.7V221.6M867.80,196.9V223.5M868.30,198.8V223.2M868.80,202.0V226.3M869.30,201.6V227.5M869.80,202.8V224.9M870.30,201.6V228.1M870.80,202.2V226.7M871.30,203.6V230.9M871.80,204.3V230.9M872.30,204.1V231.6M872.80,207.1V232.7M873.30,208.7V233.8M873.80,208.2V233.8M874.30,205.0V233.3M874.80,208.5V235.4M875.30,211.1V235.8M875.80,210.1V237.5M876.30,213.7V237.8M876.80,213.1V239.5M877.30,213.0V240.0M877.80,213.2V238.1M878.30,214.8V240.8M878.80,218.1V241.6M879.30,218.1V240.9M879.80,219.6V243.5M880.30,217.6V243.1M880.80,221.3V245.8M881.30,219.1V245.8M881.80,221.5V246.3M882.30,217.6V248.3M882.80,223.1V247.4M883.30,224.2V250.4M883.80,222.3V251.7M884.30,226.4V257.7M884.80,227.1V252.9M885.30,225.9V252.8M885.80,226.8V253.0M886.30,226.1V256.3M886.80,226.0V257.9M887.30,230.1V257.6M887.80,231.0V257.1M888.30,232.1V257.8M888.80,231.7V259.6M889.30,234.7V261.3M889.80,235.4V261.6M890.30,233.4V263.3M890.80,234.6V264.1M891.30,238.9V269.5M891.80,237.5V264.1M892.30,240.3V266.4M892.80,240.6V265.0M893.30,247.3V263.4M893.80,235.9V266.0M894.30,237.8V271.2M894.80,233.1V265.8M895.30,232.4V260.9M895.80,227.5V257.9M896.30,233.8V249.5M896.80,228.0V245.9M897.30,223.8V240.2M897.80,221.8V236.2M898.30,218.4V234.3M898.80,218.1V227.2M899.30,214.7V225.8M899.80,211.0V219.7M900.30,206.2V219.1M900.80,204.6V212.4M901.30,199.8V210.6M901.80,200.1V206.0M902.30,197.0V208.2M902.80,201.9V214.2M903.30,209.2V219.6M903.80,212.7V227.1M904.30,222.2V234.9M904.80,228.3V240.3M905.30,233.3V248.8M905.80,238.8V255.7M906.30,245.3V254.8M906.80,245.1V256.4M907.30,247.1V259.5M907.80,247.3V262.4M908.30,242.4V271.5M908.80,242.8V270.8M909.30,243.6V271.8M909.80,243.4V273.8M910.30,245.5V277.5M910.80,247.1V282.7M911.30,251.2V277.0M911.80,249.0V279.1M912.30,250.3V282.1M912.80,254.3V285.0M913.30,252.8V285.0M913.80,254.8V284.2M914.30,258.9V288.0M914.80,257.0V286.2M915.30,259.8V290.8M915.80,260.8V291.2M916.30,264.3V290.4M916.80,264.8V296.2M917.30,265.8V294.1M917.80,273.0V290.4M918.30,274.1V286.1M918.80,274.2V294.0M919.30,273.1V285.8M919.80,275.4V296.4M920.30,267.1V285.6M920.80,274.4V287.8M921.30,275.2V288.2M921.80,273.3V288.8M922.30,273.4V289.3M922.80,277.0V288.8M923.30,275.5V289.7M923.80,273.5V288.0M924.30,271.2V292.7M924.80,268.0V294.5M925.30,259.7V296.1M925.80,254.9V291.2M926.30,249.3V283.3M926.80,252.7V268.9M927.30,248.1V266.3M927.80,240.0V258.1M928.30,235.3V253.8M928.80,229.5V247.9M929.30,225.6V239.1M929.80,219.1V233.9M930.30,214.6V228.1M930.80,209.6V224.5M931.30,205.8V216.7M931.80,198.5V210.7M932.30,192.0V204.2M932.80,189.6V199.7M933.30,192.3V204.0M933.80,201.3V211.5M934.30,204.6V217.2M934.80,213.2V226.7M935.30,216.4V231.3M935.80,224.6V240.1M936.30,229.6V247.1M936.80,235.4V251.8M937.30,243.5V257.7M937.80,247.8V264.8M938.30,255.2V271.2M938.80,256.3V273.0M939.30,251.5V283.7M939.80,251.1V284.5M940.30,259.5V287.7M940.80,259.2V293.0M941.30,257.9V293.9M941.80,266.3V298.0M942.30,271.6V302.9M942.80,271.7V302.3M943.30,277.1V308.5M943.80,270.7V309.2M944.30,283.3V313.7M944.80,276.3V314.8M945.30,288.3V319.6M945.80,292.0V323.9M946.30,292.0V323.1M946.80,297.8V324.0M947.30,296.4V317.0M947.80,303.9V316.6M948.30,304.4V316.1M948.80,304.0V317.0M949.30,303.8V326.5M949.80,305.0V316.2M950.30,305.7V318.1M950.80,306.0V317.0M951.30,305.0V318.6M951.80,299.1V324.4M952.30,293.9V327.5M952.80,291.7V320.8M953.30,285.9V319.6M953.80,281.0V312.8M954.30,278.5V309.6M954.80,265.8V305.7M955.30,266.6V304.0M955.80,276.4V292.0M956.30,272.3V285.7M956.80,266.4V283.0M957.30,266.2V277.0M957.80,260.9V274.9M958.30,260.0V270.6M958.80,253.7V266.7M959.30,252.3V262.5M959.80,247.3V258.9M960.30,245.8V255.4M960.80,239.1V251.0M961.30,236.4V245.4M961.80,236.6V245.6M962.30,242.7V251.4M962.80,243.5V253.5M963.30,249.7V257.5M963.80,252.3V262.1M964.30,256.8V268.7M964.80,258.7V273.7M965.30,262.9V276.8M965.80,268.0V282.1M966.30,270.6V284.4M966.80,272.9V290.4M967.30,276.5V294.8M967.80,272.0V303.1M968.30,277.2V307.3M968.80,278.2V308.3M969.30,278.7V307.0M969.80,281.3V308.2M970.30,279.2V307.8M970.80,282.6V310.8M971.30,282.0V310.7M971.80,279.8V315.1M972.30,280.9V315.9M972.80,285.8V315.3M973.30,285.8V317.3M973.80,286.6V316.8M974.30,290.5V316.6M974.80,295.9V314.3M975.30,298.8V315.5M975.80,299.7V312.3M976.30,298.1V312.7M976.80,300.9V311.0M977.30,298.9V313.2M977.80,297.4V316.6M978.30,300.5V312.7M978.80,300.2V311.3M979.30,298.4V310.1M979.80,298.6V311.7M980.30,297.9V309.8M980.80,298.3V312.5M981.30,300.3V313.5M981.80,300.0V311.4M982.30,300.1V311.2M982.80,297.3V310.5M983.30,299.4V312.2M983.80,300.3V310.4M984.30,294.6V309.6M984.80,300.4V311.7M985.30,298.4V310.8M985.80,298.9V310.0" fill="none" stroke="#0a0af0" stroke-width="1.4"/>
<polyline points="624.8,43.5 630.0,45.0 634.4,50.7 639.0,58.0 646.3,16.0 651.0,58.0 668.0,62.7 682.0,70.0 699.0,89.0 715.8,103.4 727.8,125.0 739.8,144.0 754.0,165.7 768.5,180.0 780.0,178.0 790.0,170.5 802.0,189.6 825.0,182.8 842.8,180.3 862.9,203.0 883.0,235.6 894.0,255.5 902.2,199.8 906.0,250.0 917.5,280.6 925.0,282.0 932.8,193.5 938.0,260.0 946.3,309.4 952.0,312.0 961.5,240.2 968.0,290.0 975.0,305.8 985.8,305.0" fill="none" stroke="#0a0af0" stroke-width="4.5" stroke-linejoin="round" stroke-linecap="round"/>
<line x1="85.0" y1="635.2" x2="296.2" y2="575.0" stroke="#d9d9d9" stroke-width="1.2"/>
<line x1="296.2" y1="575.0" x2="459.7" y2="655.4" stroke="#d9d9d9" stroke-width="1.2"/>
<line x1="85.0" y1="588.4" x2="296.2" y2="528.2" stroke="#d9d9d9" stroke-width="1.2"/>
<line x1="296.2" y1="528.2" x2="459.7" y2="608.6" stroke="#d9d9d9" stroke-width="1.2"/>
<line x1="85.0" y1="541.6" x2="296.2" y2="481.4" stroke="#d9d9d9" stroke-width="1.2"/>
<line x1="296.2" y1="481.4" x2="459.7" y2="561.8" stroke="#d9d9d9" stroke-width="1.2"/>
<line x1="221.9" y1="643.0" x2="221.9" y2="469.5" stroke="#d9d9d9" stroke-width="1.2"/>
<line x1="296.2" y1="621.8" x2="296.2" y2="448.3" stroke="#d9d9d9" stroke-width="1.2"/>
<line x1="377.9" y1="662.0" x2="377.9" y2="488.5" stroke="#d9d9d9" stroke-width="1.2"/>
<line x1="459.7" y1="702.2" x2="459.7" y2="528.7" stroke="#d9d9d9" stroke-width="1.2"/>
<line x1="296.2" y1="621.8" x2="85.0" y2="682.0" stroke="#d9d9d9" stroke-width="1.0"/>
<line x1="296.2" y1="621.8" x2="459.7" y2="702.2" stroke="#d9d9d9" stroke-width="1.0"/>
<polygon points="94.0,672.0 112.0,669.8 125.0,664.4 144.4,663.3 238.8,636.5 247.4,635.4 283.7,624.0 308.0,624.7 354.0,655.0 411.0,670.0 460.5,689.0 458.0,697.0 453.0,700.8 437.7,706.5 420.0,696.0 400.0,700.0 380.0,693.0 361.6,727.4 346.0,720.0 331.0,735.0 300.0,718.0 278.0,706.5 255.0,702.7 232.0,700.8 217.0,697.0 205.6,704.6 179.0,716.0 94.0,679.0" fill="rgb(68,56,214)" stroke="rgb(68,56,214)" stroke-width="0.7" />
<polygon points="112.0,670.0 238.8,636.5 247.4,635.4 283.7,624.0 308.0,624.7 330.0,640.0 290.0,650.0 250.0,662.0 215.0,677.0 170.0,676.0 130.0,674.0" fill="rgb(60,40,170)" stroke="rgb(60,40,170)" stroke-width="0.7" />
<polygon points="305.6,624.0 367.8,653.6 408.3,669.2 460.5,689.0 456.0,693.0 420.0,684.0 400.0,680.0 318.0,675.4" fill="rgb(60,40,170)" stroke="rgb(60,40,170)" stroke-width="0.7" />
<polygon points="400.0,678.0 420.0,684.0 456.0,693.0 453.0,700.8 437.7,706.5 420.0,700.0 400.0,703.0 381.9,691.0" fill="url(#crend)" stroke="url(#crend)" stroke-width="0.7" />
<polygon points="305.6,624.0 367.8,653.6 318.0,675.4 346.0,720.0 331.3,734.5 321.0,703.4" fill="url(#cmid)" stroke="url(#cmid)" stroke-width="0.7" />
<polygon points="400.5,638.0 408.3,669.2 381.9,691.0 363.0,728.3 346.0,720.0 318.0,675.4 367.8,653.6" fill="url(#cp3)" stroke="url(#cp3)" stroke-width="0.7" />
<polygon points="299.3,617.0 305.6,624.0 321.0,703.4 331.3,734.5 300.0,718.0 278.0,706.5 280.0,660.0 285.5,628.5" fill="url(#cp2)" stroke="url(#cp2)" stroke-width="0.7" />
<polygon points="277.2,579.2 282.2,590.0 283.9,627.0 283.0,660.0 278.0,706.5 255.0,702.7 232.0,700.8 217.0,697.0 200.0,690.8 216.8,677.4 233.6,657.0 245.3,637.0 257.0,618.7 267.1,598.5" fill="url(#cp1)" stroke="url(#cp1)" stroke-width="0.7" />
<polygon points="179.0,700.8 194.0,689.0 217.0,697.0 205.6,704.6 179.0,716.0" fill="url(#cface)" stroke="url(#cface)" stroke-width="0.7" />
<polygon points="205.6,704.6 217.0,697.0 232.0,700.8 255.0,702.7 278.0,706.5 276.0,709.0 255.0,706.0 232.0,705.0 214.0,708.0" fill="rgb(64,52,195)" stroke="rgb(64,52,195)" stroke-width="0.7" />
<polyline points="256.0,692.0 283.5,664.5" fill="none" stroke="rgba(225,252,245,0.75)" stroke-width="1.0" />
<polyline points="257.4,686.6 283.5,660.5" fill="none" stroke="rgba(225,252,245,0.75)" stroke-width="1.0" />
<polyline points="258.9,681.1 283.5,656.5" fill="none" stroke="rgba(225,252,245,0.75)" stroke-width="1.0" />
<polyline points="260.3,675.7 283.5,652.5" fill="none" stroke="rgba(225,252,245,0.75)" stroke-width="1.0" />
<polyline points="261.7,670.3 283.5,648.5" fill="none" stroke="rgba(225,252,245,0.75)" stroke-width="1.0" />
<polyline points="263.1,664.9 283.5,644.5" fill="none" stroke="rgba(225,252,245,0.75)" stroke-width="1.0" />
<polyline points="264.6,659.4 283.5,640.5" fill="none" stroke="rgba(225,252,245,0.75)" stroke-width="1.0" />
<polyline points="266.0,654.0 283.5,636.5" fill="none" stroke="rgba(225,252,245,0.75)" stroke-width="1.0" />
<polyline points="267.4,648.6 283.5,632.5" fill="none" stroke="rgba(225,252,245,0.75)" stroke-width="1.0" />
<polyline points="268.9,643.1 283.5,628.5" fill="none" stroke="rgba(225,252,245,0.75)" stroke-width="1.0" />
<polyline points="270.3,637.7 283.5,624.5" fill="none" stroke="rgba(225,252,245,0.75)" stroke-width="1.0" />
<polyline points="271.7,632.3 283.5,620.5" fill="none" stroke="rgba(225,252,245,0.75)" stroke-width="1.0" />
<polyline points="273.1,626.9 283.5,616.5" fill="none" stroke="rgba(225,252,245,0.75)" stroke-width="1.0" />
<polyline points="274.6,621.4 283.5,612.5" fill="none" stroke="rgba(225,252,245,0.75)" stroke-width="1.0" />
<polyline points="276.0,616.0 283.5,608.5" fill="none" stroke="rgba(225,252,245,0.75)" stroke-width="1.0" />
<polyline points="256.0,690.0 238.4,700.9 217.0,702.9" fill="none" stroke="rgba(225,252,245,0.75)" stroke-width="1.0" />
<polyline points="257.0,685.7 240.7,695.8 220.8,697.6" fill="none" stroke="rgba(225,252,245,0.75)" stroke-width="1.0" />
<polyline points="258.0,681.3 243.0,690.7 224.7,692.3" fill="none" stroke="rgba(225,252,245,0.75)" stroke-width="1.0" />
<polyline points="259.0,677.0 245.3,685.5 228.5,687.1" fill="none" stroke="rgba(225,252,245,0.75)" stroke-width="1.0" />
<polyline points="260.0,672.7 247.6,680.4 232.3,681.8" fill="none" stroke="rgba(225,252,245,0.75)" stroke-width="1.0" />
<polyline points="261.0,668.3 249.8,675.3 236.2,676.5" fill="none" stroke="rgba(225,252,245,0.75)" stroke-width="1.0" />
<polyline points="262.0,664.0 252.1,670.2 240.0,671.3" fill="none" stroke="rgba(225,252,245,0.75)" stroke-width="1.0" />
<polyline points="263.0,659.7 254.4,665.0 243.8,666.0" fill="none" stroke="rgba(225,252,245,0.75)" stroke-width="1.0" />
<polyline points="264.0,655.3 256.6,659.9 247.7,660.7" fill="none" stroke="rgba(225,252,245,0.75)" stroke-width="1.0" />
<polyline points="265.0,651.0 258.9,654.8 251.5,655.5" fill="none" stroke="rgba(225,252,245,0.75)" stroke-width="1.0" />
<polyline points="266.0,646.7 261.2,649.7 255.3,650.2" fill="none" stroke="rgba(225,252,245,0.75)" stroke-width="1.0" />
<polyline points="267.0,642.3 263.5,644.5 259.2,644.9" fill="none" stroke="rgba(225,252,245,0.75)" stroke-width="1.0" />
<polyline points="268.0,638.0 265.8,639.4 263.0,639.6" fill="none" stroke="rgba(225,252,245,0.75)" stroke-width="1.0" />
<line x1="85.0" y1="682.0" x2="85.0" y2="508.5" stroke="#4a4a4a" stroke-width="1.4"/>
<line x1="85.0" y1="682.0" x2="248.5" y2="762.4" stroke="#404040" stroke-width="1.5"/>
<line x1="248.5" y1="762.4" x2="459.7" y2="702.2" stroke="#404040" stroke-width="1.5"/>
<line x1="85.0" y1="682.0" x2="80.0" y2="683.5" stroke="#404040" stroke-width="1.3"/>
<line x1="85.0" y1="635.2" x2="80.0" y2="636.7" stroke="#404040" stroke-width="1.3"/>
<line x1="85.0" y1="588.4" x2="80.0" y2="589.9" stroke="#404040" stroke-width="1.3"/>
<line x1="85.0" y1="541.6" x2="80.0" y2="543.1" stroke="#404040" stroke-width="1.3"/>
<line x1="85.0" y1="682.0" x2="80.0" y2="683.5" stroke="#404040" stroke-width="1.3"/>
<line x1="166.8" y1="722.2" x2="161.8" y2="723.7" stroke="#404040" stroke-width="1.3"/>
<line x1="248.5" y1="762.4" x2="243.5" y2="763.9" stroke="#404040" stroke-width="1.3"/>
<line x1="248.5" y1="762.4" x2="244.5" y2="760.4" stroke="#404040" stroke-width="1.3"/>
<line x1="385.4" y1="723.4" x2="381.4" y2="721.4" stroke="#404040" stroke-width="1.3"/>
<text transform="translate(71.5,686.5) scale(1,1.03)" font-size="26" text-anchor="end" >0</text>
<text transform="translate(71.5,641.0) scale(1,1.03)" font-size="26" text-anchor="end" >0.2</text>
<text transform="translate(71.5,594.3) scale(1,1.03)" font-size="26" text-anchor="end" >0.4</text>
<text transform="translate(71.5,547.0) scale(1,1.03)" font-size="26" text-anchor="end" >0.6</text>
<text transform="translate(71.0,710.0) scale(1,1.03)" font-size="26" text-anchor="end" >100</text>
<text transform="translate(152.5,750.0) scale(1,1.03)" font-size="26" text-anchor="end" >50</text>
<text transform="translate(233.0,789.5) scale(1,1.03)" font-size="26" text-anchor="end" >0</text>
<text transform="translate(283.0,791.0) scale(1,1.03)" font-size="26" text-anchor="middle" >0.05</text>
<text transform="translate(412.5,753.0) scale(1,1.03)" font-size="26" text-anchor="middle" >0.1</text>
<text transform="translate(123.9,790.0) scale(1,1.03)" font-size="29" text-anchor="middle" >Frequency(Hz)</text>
<text transform="translate(391.0,794.0) scale(1,1.03)" font-size="28" text-anchor="middle" >Time(s)</text>
<text transform="translate(201.0,823.0) scale(1,1.03)" font-size="28" text-anchor="middle" >(c)</text>
<text transform="translate(27.5,597.5) rotate(-90)" font-size="29" text-anchor="middle">Amplitude(V)</text>
<line x1="624.5" y1="595.7" x2="836.7" y2="538.2" stroke="#d9d9d9" stroke-width="1.2"/>
<line x1="836.7" y1="538.2" x2="1000.9" y2="616.1" stroke="#d9d9d9" stroke-width="1.2"/>
<line x1="624.5" y1="511.0" x2="836.7" y2="453.5" stroke="#d9d9d9" stroke-width="1.2"/>
<line x1="836.7" y1="453.5" x2="1000.9" y2="531.4" stroke="#d9d9d9" stroke-width="1.2"/>
<line x1="762.9" y1="642.8" x2="762.9" y2="473.5" stroke="#d9d9d9" stroke-width="1.2"/>
<line x1="836.7" y1="622.8" x2="836.7" y2="453.5" stroke="#d9d9d9" stroke-width="1.2"/>
<line x1="918.8" y1="663.5" x2="918.8" y2="494.2" stroke="#d9d9d9" stroke-width="1.2"/>
<line x1="1000.9" y1="700.7" x2="1000.9" y2="531.4" stroke="#d9d9d9" stroke-width="1.2"/>
<line x1="836.7" y1="622.8" x2="624.5" y2="680.3" stroke="#d9d9d9" stroke-width="1.0"/>
<line x1="836.7" y1="622.8" x2="1000.9" y2="700.7" stroke="#d9d9d9" stroke-width="1.0"/>
<polygon points="625.0,672.0 648.7,673.0 681.5,661.7 722.4,651.5 763.5,642.5 790.7,620.0 805.9,610.7 821.0,616.8 836.0,610.7 913.9,631.0 892.0,707.0 890.4,732.4 878.7,727.4 870.3,735.7 825.0,713.0 784.0,704.7 743.0,713.0 709.0,716.6 625.0,678.0" fill="rgb(68,56,214)" stroke="rgb(68,56,214)" stroke-width="0.7" />
<polygon points="640.0,674.0 648.7,673.0 681.5,661.7 722.4,651.5 763.5,642.5 709.0,689.4 642.5,678.0" fill="rgb(60,40,170)" stroke="rgb(60,40,170)" stroke-width="0.7" />
<polygon points="625.0,672.0 642.5,678.0 709.0,689.4 709.0,716.6 625.0,678.0" fill="url(#dfront)" stroke="url(#dfront)" stroke-width="0.7" />
<polygon points="709.0,689.4 763.5,642.5 750.0,677.0 790.7,677.0 799.8,680.0 821.0,707.5 825.0,713.0 784.0,704.7 743.0,713.0 709.0,716.6" fill="url(#dcy)" stroke="url(#dcy)" stroke-width="0.7" />
<polygon points="799.8,594.0 790.7,620.0 790.7,677.0 750.0,677.0 763.5,642.5" fill="url(#dp1l)" stroke="url(#dp1l)" stroke-width="0.7" />
<polyline points="791.0,622.0 794.3,624.0 789.3,624.0" fill="none" stroke="rgba(225,252,245,0.7)" stroke-width="1.1" />
<polyline points="791.0,626.4 791.1,628.4 786.1,628.4" fill="none" stroke="rgba(225,252,245,0.7)" stroke-width="1.1" />
<polyline points="791.0,630.8 787.9,632.8 782.9,632.8" fill="none" stroke="rgba(225,252,245,0.7)" stroke-width="1.1" />
<polyline points="791.0,635.2 784.8,637.2 779.8,637.2" fill="none" stroke="rgba(225,252,245,0.7)" stroke-width="1.1" />
<polyline points="791.0,639.6 781.6,641.6 776.6,641.6" fill="none" stroke="rgba(225,252,245,0.7)" stroke-width="1.1" />
<polyline points="791.0,644.0 778.4,646.0 773.4,646.0" fill="none" stroke="rgba(225,252,245,0.7)" stroke-width="1.1" />
<polyline points="791.0,648.4 775.3,650.4 770.3,650.4" fill="none" stroke="rgba(225,252,245,0.7)" stroke-width="1.1" />
<polyline points="791.0,652.8 772.1,654.8 767.1,654.8" fill="none" stroke="rgba(225,252,245,0.7)" stroke-width="1.1" />
<polyline points="791.0,657.2 768.9,659.2 763.9,659.2" fill="none" stroke="rgba(225,252,245,0.7)" stroke-width="1.1" />
<polyline points="791.0,661.6 765.7,663.6 760.7,663.6" fill="none" stroke="rgba(225,252,245,0.7)" stroke-width="1.1" />
<polyline points="791.0,666.0 762.6,668.0 757.6,668.0" fill="none" stroke="rgba(225,252,245,0.7)" stroke-width="1.1" />
<polyline points="791.0,670.4 759.4,672.4 754.4,672.4" fill="none" stroke="rgba(225,252,245,0.7)" stroke-width="1.1" />
<polyline points="791.0,674.8 756.2,676.8 751.2,676.8" fill="none" stroke="rgba(225,252,245,0.7)" stroke-width="1.1" />
<polygon points="799.8,594.0 805.9,610.7 821.0,616.8 845.0,677.0 869.4,734.8 850.0,725.0 825.0,713.0 821.0,707.5 799.8,680.0 790.7,677.0 790.7,620.0" fill="url(#dp1)" stroke="url(#dp1)" stroke-width="0.7" />
<polygon points="835.9,610.0 913.9,631.0 846.8,673.7 825.0,621.8 821.0,616.8" fill="url(#dback)" stroke="url(#dback)" stroke-width="0.7" />
<polyline points="829.0,626.0 905.0,641.2" fill="none" stroke="rgba(88,72,220,0.45)" stroke-width="3" />
<polyline points="833.5,636.5 888.0,647.4" fill="none" stroke="rgba(88,72,220,0.45)" stroke-width="3" />
<polyline points="838.0,647.0 871.0,653.6" fill="none" stroke="rgba(88,72,220,0.45)" stroke-width="3" />
<polyline points="842.5,657.5 854.0,659.8" fill="none" stroke="rgba(88,72,220,0.45)" stroke-width="3" />
<polygon points="846.8,673.7 913.9,631.0 913.9,638.5 853.5,693.8" fill="rgb(80,76,226)" stroke="rgb(80,76,226)" stroke-width="0.7" />
<polygon points="853.5,693.8 913.9,638.5 892.0,707.0 890.4,732.4 878.7,727.4 870.3,735.7" fill="url(#dlb)" stroke="url(#dlb)" stroke-width="0.7" />
<polygon points="994.4,530.1 1001.5,545.0 1001.5,616.0 970.5,616.0 985.0,560.0" fill="rgba(235,245,225,0.6)" />
<polyline points="986.0,542.0 994.0,545.0 1001.5,546.0" fill="none" stroke="rgb(245,205,45)" stroke-width="1.0" />
<polyline points="985.2,545.6 993.2,548.6 1001.5,549.6" fill="none" stroke="rgb(238,204,47)" stroke-width="1.0" />
<polyline points="984.4,549.2 992.4,552.2 1001.5,553.2" fill="none" stroke="rgb(231,203,49)" stroke-width="1.0" />
<polyline points="983.6,552.8 991.6,555.8 1001.5,556.8" fill="none" stroke="rgb(224,202,51)" stroke-width="1.0" />
<polyline points="982.8,556.4 990.8,559.4 1001.5,560.4" fill="none" stroke="rgb(217,201,54)" stroke-width="1.0" />
<polyline points="982.0,560.0 990.0,563.0 1001.5,564.0" fill="none" stroke="rgb(211,201,56)" stroke-width="1.0" />
<polyline points="981.2,563.6 989.2,566.6 1001.5,567.6" fill="none" stroke="rgb(204,200,58)" stroke-width="1.0" />
<polyline points="980.5,567.2 988.5,570.2 1001.5,571.2" fill="none" stroke="rgb(191,200,65)" stroke-width="1.0" />
<polyline points="979.7,570.8 987.7,573.8 1001.5,574.8" fill="none" stroke="rgb(168,200,82)" stroke-width="1.0" />
<polyline points="978.9,574.4 986.9,577.4 1001.5,578.4" fill="none" stroke="rgb(145,200,99)" stroke-width="1.0" />
<polyline points="978.1,578.0 986.1,581.0 1001.5,582.0" fill="none" stroke="rgb(122,200,116)" stroke-width="1.0" />
<polyline points="977.3,581.6 985.3,584.6 1001.5,585.6" fill="none" stroke="rgb(99,200,133)" stroke-width="1.0" />
<polyline points="976.5,585.2 984.5,588.2 1001.5,589.2" fill="none" stroke="rgb(86,199,144)" stroke-width="1.0" />
<polyline points="975.7,588.8 983.7,591.8 1001.5,592.8" fill="none" stroke="rgb(79,198,152)" stroke-width="1.0" />
<polyline points="974.9,592.4 982.9,595.4 1001.5,596.4" fill="none" stroke="rgb(72,198,160)" stroke-width="1.0" />
<polyline points="974.1,596.0 982.1,599.0 1001.5,600.0" fill="none" stroke="rgb(66,197,168)" stroke-width="1.0" />
<polyline points="973.3,599.6 981.3,602.6 1001.5,603.6" fill="none" stroke="rgb(59,196,176)" stroke-width="1.0" />
<polyline points="972.5,603.2 980.5,606.2 1001.5,607.2" fill="none" stroke="rgb(53,196,184)" stroke-width="1.0" />
<polyline points="971.7,606.8 979.7,609.8 1001.5,610.8" fill="none" stroke="rgb(46,195,192)" stroke-width="1.0" />
<polyline points="971.0,610.4 979.0,613.4 1001.5,614.4" fill="none" stroke="rgb(40,195,200)" stroke-width="1.0" />
<polygon points="913.9,631.0 920.1,628.3 950.3,580.5 975.5,533.9 984.0,550.0 994.4,530.1 990.0,565.0 978.0,600.0 970.5,615.7 950.3,633.3 932.7,661.0 925.2,681.0 915.0,701.3 900.0,711.4 892.0,707.0 913.9,638.5" fill="url(#drr)" stroke="url(#drr)" stroke-width="0.7" />
<line x1="624.5" y1="680.3" x2="624.5" y2="511.0" stroke="#4a4a4a" stroke-width="1.4"/>
<line x1="624.5" y1="680.3" x2="788.7" y2="761.7" stroke="#404040" stroke-width="1.5"/>
<line x1="788.7" y1="761.7" x2="1000.9" y2="700.7" stroke="#404040" stroke-width="1.5"/>
<line x1="624.5" y1="680.3" x2="619.5" y2="681.8" stroke="#404040" stroke-width="1.3"/>
<line x1="624.5" y1="595.7" x2="619.5" y2="597.2" stroke="#404040" stroke-width="1.3"/>
<line x1="624.5" y1="511.0" x2="619.5" y2="512.5" stroke="#404040" stroke-width="1.3"/>
<line x1="624.5" y1="680.3" x2="619.5" y2="681.8" stroke="#404040" stroke-width="1.3"/>
<line x1="706.6" y1="721.0" x2="701.6" y2="722.5" stroke="#404040" stroke-width="1.3"/>
<line x1="788.7" y1="761.7" x2="783.7" y2="763.2" stroke="#404040" stroke-width="1.3"/>
<line x1="788.7" y1="761.7" x2="784.7" y2="759.7" stroke="#404040" stroke-width="1.3"/>
<line x1="927.1" y1="721.9" x2="923.1" y2="719.9" stroke="#404040" stroke-width="1.3"/>
<text transform="translate(613.5,686.8) scale(1,1.03)" font-size="26" text-anchor="end" >0</text>
<text transform="translate(613.5,603.7) scale(1,1.03)" font-size="26" text-anchor="end" >0.1</text>
<text transform="translate(613.5,519.0) scale(1,1.03)" font-size="26" text-anchor="end" >0.2</text>
<text transform="translate(609.0,707.0) scale(1,1.03)" font-size="26" text-anchor="end" >100</text>
<text transform="translate(692.5,751.0) scale(1,1.03)" font-size="26" text-anchor="end" >50</text>
<text transform="translate(774.5,789.5) scale(1,1.03)" font-size="26" text-anchor="end" >0</text>
<text transform="translate(807.0,793.0) scale(1,1.03)" font-size="26" text-anchor="middle" >0</text>
<text transform="translate(960.0,753.0) scale(1,1.03)" font-size="26" text-anchor="middle" >0.05</text>
<text transform="translate(666.8,791.0) scale(1,1.03)" font-size="29" text-anchor="middle" >Frequency(Hz)</text>
<text transform="translate(940.5,790.0) scale(1,1.03)" font-size="28" text-anchor="middle" >Time(s)</text>
<text transform="translate(743.0,826.0) scale(1,1.03)" font-size="28" text-anchor="middle" >(d)</text>
<text transform="translate(567,596) rotate(-90)" font-size="29" text-anchor="middle">Amplitude(V)</text></svg>
</body></html>
